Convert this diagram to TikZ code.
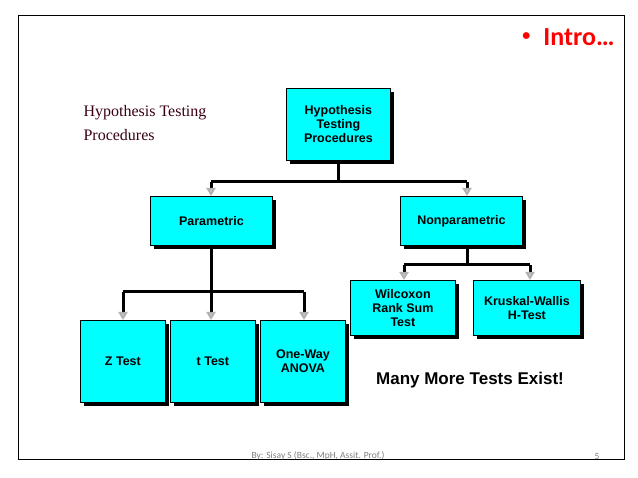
\documentclass[tikz,border=0pt]{standalone}
\usepackage{fontspec}
\setmainfont{Liberation Sans}
\newfontfamily\serif{Liberation Serif}
\newfontfamily\carl{Carlito}
\usetikzlibrary{arrows.meta}
\definecolor{cy}{RGB}{0,255,255}
\tikzset{
  bx/.style={draw=black,line width=0.8pt,fill=cy,align=center,font=\bfseries\fontsize{12.5}{14}\selectfont,inner sep=0pt},
  con/.style={line width=3pt,-{Triangle[length=8pt,width=9pt,fill=gray!35,color=gray!60]}},
  bar/.style={line width=3pt},
}
\newcommand{\boxat}[6]{% name, x1,y1,x2,y2,text
  \fill[black] (#2+4,#3+4) rectangle (#4+4,#5+4);
  \node[bx,minimum width=#4-#2,minimum height=#5-#3,anchor=north west] (#1) at (#2,#3) {#6};}
\begin{document}
\begin{tikzpicture}[x=1pt,y=-1pt]
\useasboundingbox (0,0) rectangle (638,478);
\draw[line width=1pt] (18,16) rectangle (624,460);
\node[anchor=east,text=red,font=\carl\bfseries\fontsize{26}{28}\selectfont] (intro) at (618,37) {\raisebox{5pt}{\fontsize{16}{16}\selectfont•}\; Intro…};
\node[anchor=north west,align=left,font=\serif\fontsize{16}{24}\selectfont,text=black!70!purple] (lt) at (80,102) {Hypothesis Testing\\Procedures};
\boxat{hyp}{286}{88}{390}{160}{Hypothesis\\Testing\\Procedures}
\boxat{par}{150}{196}{272}{245}{Parametric}
\boxat{non}{400}{196}{522}{245}{Nonparametric}
\boxat{z}{80}{320}{165}{402}{Z Test}
\boxat{t}{170}{320}{255}{402}{t Test}
\boxat{a}{260}{320}{345}{402}{One-Way\\ANOVA}
\boxat{w}{350}{280}{455}{335}{Wilcoxon\\Rank Sum\\Test}
\boxat{k}{473}{280}{580}{335}{Kruskal-Wallis\\H-Test}
\coordinate (b1) at (338,182);
\coordinate (b1l) at (211,182);
\coordinate (b1r) at (467,182);
\draw[bar] (hyp.south -| b1) -- (b1);
\draw[bar] (b1l) -- (b1r);
\draw[con] (b1l) -- (par.north -| b1l);
\draw[con] (b1r) -- (non.north -| b1r);
\coordinate (b2) at (211,292);
\coordinate (b2l) at (123,292);
\coordinate (b2r) at (304,292);
\draw[bar] (par.south -| b2) -- (b2);
\draw[bar] (b2l) -- (b2r);
\draw[con] (b2l) -- (z.north -| b2l);
\draw[con] (b2) -- (t.north -| b2);
\draw[con] (b2r) -- (a.north -| b2r);
\coordinate (b3) at (467,265);
\coordinate (b3l) at (404,265);
\coordinate (b3r) at (530,265);
\draw[bar] (non.south -| b3) -- (b3);
\draw[bar] (b3l) -- (b3r);
\draw[con] (b3l) -- (w.north -| b3l);
\draw[con] (b3r) -- (k.north -| b3r);
\node[font=\bfseries\fontsize{17}{19}\selectfont] (many) at (470,380) {Many More Tests Exist!};
\node[font=\carl\fontsize{9.5}{10}\selectfont,text=gray] (foot) at (318,456) {By: Sisay S (Bsc., MpH, Assit. Prof.)};
\node[font=\carl\fontsize{9.5}{10}\selectfont,text=gray] (pg) at (597,456) {5};
\end{tikzpicture}
\end{document}
